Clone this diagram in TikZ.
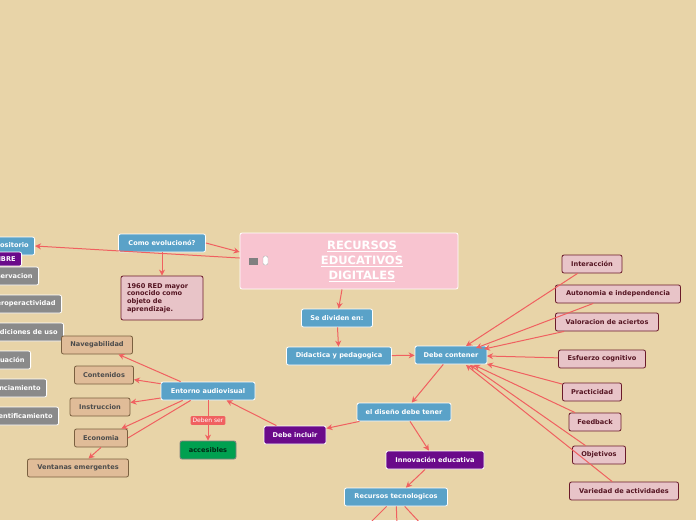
\documentclass[tikz,border=0pt]{standalone}
\usepackage{fontspec}
\setmainfont{DejaVu Sans}
\usetikzlibrary{arrows.meta}
\definecolor{bg}{HTML}{E8D4A8}
\definecolor{bl}{HTML}{5AA2C8}
\definecolor{pu}{HTML}{6A0A8A}
\definecolor{gr}{HTML}{8A8A8A}
\definecolor{tan}{HTML}{E0BC98}
\definecolor{tanb}{HTML}{7A6040}
\definecolor{pk}{HTML}{E8C4C8}
\definecolor{pkb}{HTML}{6A1A2A}
\definecolor{ttl}{HTML}{F8C4D0}
\definecolor{ar}{HTML}{F06060}
\definecolor{gn}{HTML}{00A050}
\begin{document}
\begin{tikzpicture}[x=1pt,y=-1pt,
 base/.style={rounded corners=2pt,font=\bfseries\fontsize{6.6}{7.6}\selectfont,inner xsep=6pt,minimum height=18pt,line width=0.8pt},
 bbox/.style={base,fill=bl,draw=white,text=white},
 pbox/.style={base,fill=pu,draw=white,text=white},
 gbox/.style={base,fill=gr,draw=white,text=white},
 tbox/.style={base,fill=tan,draw=tanb,text=black!70},
 kbox/.style={base,fill=pk,draw=pkb,text=pkb!80!black},
 con/.style={draw=ar,line width=1pt,-{Stealth[length=6pt,width=6pt]}},
 ln/.style={draw=ar,line width=1pt}]
\fill[bg] (0,0) rectangle (696,520);
\useasboundingbox (0,0) rectangle (696,520);
\clip (0,0) rectangle (696,520);
% title
\node[base,fill=ttl,draw=white,minimum width=218pt,minimum height=56pt] (t) at (349,261) {};
\node[font=\bfseries\fontsize{11.5}{15}\selectfont,text=white,align=center] (tt) at (362,261) {\underline{RECURSOS}\\\underline{EDUCATIVOS}\\\underline{DIGITALES}};
\fill[gray] (249,258) rectangle (258,265);
\fill[white,draw=gray!60,rounded corners=1.5pt] (263,256) rectangle (268,265);
% left
\node[bbox,minimum width=87pt] (como) at (162,243) {Como evolucionó?};
\node[kbox,align=left,text width=70pt,minimum height=44pt] (y60) at (162,298) {1960 RED mayor\\conocido como\\objeto de\\aprendizaje.};
\node[bbox,anchor=east] (rep) at (35,246) {Repositorio};
\node[pbox,anchor=east,minimum height=14pt] (lib) at (22,259) {LIBRE};
\node[gbox,anchor=east] (obs) at (39,276) {Observacion};
\node[gbox,anchor=east] (int) at (62,304) {Interoperactividad};
\node[gbox,anchor=east] (cond) at (64,332) {Condiciones de uso};
\node[gbox,anchor=east] (eva) at (31,360) {Evaluación};
\node[gbox,anchor=east] (lic) at (47,388) {Licenciamiento};
\node[gbox,anchor=east] (ide) at (59,416) {Identificamiento};
\node[tbox,minimum width=71pt] (nav) at (97,345) {Navegabilidad};
\node[tbox,minimum width=59pt] (cont) at (104,375) {Contenidos};
\node[tbox,minimum width=60pt] (ins) at (100,407) {Instruccion};
\node[tbox,minimum width=53pt] (eco) at (101,438) {Economia};
\node[tbox,minimum width=101pt] (ven) at (78,468) {Ventanas emergentes};
\node[bbox,minimum width=94pt] (ent) at (208,391) {Entorno audiovisual};
\node[base,fill=gn,draw=black!50,text=black!75!gn,minimum width=56pt] (acc) at (208,450) {accesibles};
\node[pbox,minimum width=62pt] (inc) at (295,435) {Debe incluir};
% center
\node[bbox,minimum width=71pt] (sed) at (337,318) {Se dividen en:};
\node[bbox,minimum width=105pt] (did) at (339,356) {Didactica y pedagogica};
\node[bbox,minimum width=72pt] (dc) at (451,355) {Debe contener};
\node[bbox,minimum width=94pt] (dis) at (404,412) {el diseño debe tener};
\node[pbox,minimum width=98pt] (inn) at (435,460) {Innovación educativa};
\node[bbox,minimum width=103pt] (rt) at (396,497) {Recursos tecnologicos};
% right
\node[kbox,minimum width=60pt] (r1) at (592,264) {Interacción};
\node[kbox,minimum width=125pt] (r2) at (618,294) {Autonomia e independencia};
\node[kbox,minimum width=103pt] (r3) at (607,322) {Valoracion de aciertos};
\node[kbox,minimum width=87pt] (r4) at (602,359) {Esfuerzo cognitivo};
\node[kbox,minimum width=59pt] (r5) at (592,392) {Practicidad};
\node[kbox,minimum width=52pt] (r6) at (595,422) {Feedback};
\node[kbox,minimum width=53pt] (r7) at (599,455) {Objetivos};
\node[kbox,minimum width=109pt] (r8) at (624,491) {Variedad de actividades};
\coordinate (b1) at (368,525);\coordinate (b2) at (397,525);\coordinate (b3) at (422,525);
% edges
\draw[con] (como.east) -- (t.west |- 0,252);
\draw[con] (t.west |- 0,258) -- (rep.east);
\draw[con] (como) -- (y60);
\draw[con] (t.south -| 342,0) -- (sed);
\draw[con] (sed) -- (did);
\draw[con] (did) -- (dc);
\draw[con] (dc) -- (dis);
\draw[con] (dis) -- (inc);
\draw[con] (dis) -- (inn);
\draw[con] (inn) -- (rt);
\draw[ln] (rt) -- (b1); \draw[ln] (rt) -- (b2); \draw[ln] (rt) -- (b3);
\draw[con] (inc) -- (ent);
\draw[con] ([xshift=20pt]ent.north west) -- (nav);
\draw[con] (ent) -- (cont);
\draw[con] (ent) -- (ins);
\draw[con] ([xshift=22pt]ent.south west) -- (eco);
\draw[ln] ([xshift=30pt]ent.south west) -- (eco.east);
\draw[con] (eco.south) -- (ven);
\draw[con] (ent) -- node[fill=ar,text=white,font=\fontsize{6}{7}\selectfont,rounded corners=1pt,inner sep=2pt] {Deben ser} (acc);
\foreach \r/\px/\py in {r1/466/346,r2/476/348,r3/484/349,r4/487/356,r5/487/364,r6/474/365,r7/470/365,r8/466/365}
  \draw[con] (\r) -- (\px,\py);
\end{tikzpicture}
\end{document}
